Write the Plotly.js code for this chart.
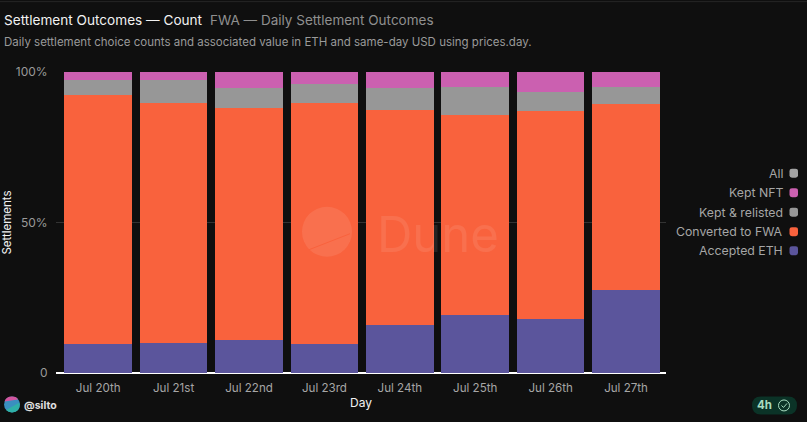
<!DOCTYPE html>
<html><head><meta charset="utf-8">
<script src="https://cdn.plot.ly/plotly-3.0.1.min.js"></script>
<style>html,body{margin:0;padding:0;background:#0f0f0f;overflow:hidden}#c{width:807px;height:422px}</style>
</head><body><div id="c"></div>
<script>
const days = ["Jul 20th","Jul 21st","Jul 22nd","Jul 23rd","Jul 24th","Jul 25th","Jul 26th","Jul 27th"];
const acceptedEth = [9.7,10.1,11.0,9.6,16.0,19.2,17.9,27.7];
const convertedFwa = [82.7,79.6,77.0,80.1,71.4,66.5,69.0,61.7];
const keptRelisted = [4.8,7.8,6.8,6.2,7.4,9.4,6.6,5.7];
const keptNft = [2.8,2.5,5.2,4.1,5.2,4.9,6.5,4.9];
const allSeries = [0,0,0,0,0,0,0,0];
const seriesNames = ["Accepted ETH","Converted to FWA","Kept & relisted","Kept NFT","All"];
const seriesColors = ["#5b559c","#f9623d","#979797","#cb60b0","#a3a3a3"];
const seriesValues = [acceptedEth,convertedFwa,keptRelisted,keptNft,allSeries];
const yTickVals = [0,50,100];
const yTickText = ["0","50%","100%"];

const W=807,H=422,L=56,R=666,T=72,B=373.5;
const px=x=>(x-L)/(R-L), py=y=>(B-y)/(B-T);
const bg="#0f0f0f";
const traces=seriesValues.map((v,i)=>({type:"bar",name:seriesNames[i],x:days,y:v,width:0.895,
  marker:{color:seriesColors[i],line:{width:0}},showlegend:false,hoverinfo:"x+y+name"}));

const ann=(x,y,text,o)=>Object.assign({xref:"paper",yref:"paper",x:px(x),y:py(y),text,showarrow:false,
  xanchor:"left",yanchor:"middle",xshift:0,yshift:0,borderpad:0,borderwidth:0},o||{});
const F="Inter, 'Noto Sans', sans-serif";
const annotations=[
  ann(4,20,"Settlement Outcomes — Count",{font:{family:F,size:13.6,color:"#f2f2f2"}}),
  ann(210,20,"FWA — Daily Settlement Outcomes",{font:{family:F,size:13.5,color:"#8f8f8f"}}),
  ann(4,42,"Daily settlement choice counts and associated value in ETH and same-day USD using prices.day.",{font:{family:F,size:11.5,color:"#9a9a9a"}}),
  ann(24,406,"<b>@silto</b>",{font:{family:F,size:10.5,color:"#e0e0e0"}}),
  ann(757,405.5,"<b>4h</b>",{font:{family:F,size:11.5,color:"#a8dcc0"}}),
  ann(377,235,"Dune",{font:{family:F,size:49,color:"rgba(255,255,255,0.09)"}}),
];
const legendY=[173.5,193,212.5,232,251];
const shapes=[
  {type:"line",xref:"paper",yref:"paper",x0:px(0),x1:px(W),y0:py(1.5),y1:py(1.5),line:{color:"#262626",width:1}},
];
const roundRect=(x0,y0,x1,y1,r)=>{
  const X=v=>px(v),Y=v=>py(v);
  return `M${X(x0+r)},${Y(y0)} L${X(x1-r)},${Y(y0)} Q${X(x1)},${Y(y0)} ${X(x1)},${Y(y0+r)} L${X(x1)},${Y(y1-r)} Q${X(x1)},${Y(y1)} ${X(x1-r)},${Y(y1)} L${X(x0+r)},${Y(y1)} Q${X(x0)},${Y(y1)} ${X(x0)},${Y(y1-r)} L${X(x0)},${Y(y0+r)} Q${X(x0)},${Y(y0)} ${X(x0+r)},${Y(y0)} Z`;
};
const pshape=(path,fill,o)=>Object.assign({type:"path",xref:"paper",yref:"paper",path,fillcolor:fill,line:{width:0}},o||{});
const circle=(cx,cy,r,fill,o)=>Object.assign({type:"circle",xref:"paper",yref:"paper",x0:px(cx-r),x1:px(cx+r),y0:py(cy+r),y1:py(cy-r),fillcolor:fill,line:{width:0}},o||{});
seriesNames.slice().reverse().forEach((n,i)=>{
  annotations.push(ann(783,legendY[i],n,{xanchor:"right",font:{family:F,size:12.3,color:"#a6a6a6"}}));
  shapes.push(pshape(roundRect(789.5,legendY[i]-4.5,798,legendY[i]+4.5,2.5),seriesColors[4-i]));
});
// avatar
shapes.push(circle(12,405,8,"#3a8fc0"));
shapes.push(pshape(`M${px(4.5)},${py(402)} Q${px(6)},${py(397)} ${px(12)},${py(397)} Q${px(17)},${py(397)} ${px(18)},${py(400)} Z`,"#d2559f"));
shapes.push(pshape(`M${px(6)},${py(410.5)} L${px(19.6)},${py(403)} Q${px(20.5)},${py(413)} ${px(12)},${py(413)} Q${px(8)},${py(413)} ${px(6)},${py(410.5)} Z`,"#2fb0a8"));
// freshness badge
shapes.push(pshape(roundRect(752,397,797,415,9),"#0b3327"));
shapes.push(circle(784,406,5.5,"rgba(0,0,0,0)",{line:{color:"#a8dcc0",width:1}}));
shapes.push(pshape(`M${px(781.5)},${py(406)} L${px(783.5)},${py(408)} L${px(787)},${py(404)}`,"rgba(0,0,0,0)",{line:{color:"#a8dcc0",width:1}}));
// watermark
shapes.push(circle(327,232,25,"rgba(255,255,255,0.09)",{layer:"above"}));
shapes.push({type:"line",xref:"paper",yref:"paper",x0:px(309),x1:px(350),y0:py(250),y1:py(234),line:{color:"#f9623d",width:1},layer:"above"});

const layout={
  width:W,height:H,paper_bgcolor:bg,plot_bgcolor:bg,
  margin:{l:L,r:W-R,t:T,b:H-B,pad:0},
  barmode:"stack",bargap:0.105,showlegend:false,
  font:{family:F,size:12,color:"#a6a6a6"},
  xaxis:{type:"category",categoryorder:"array",categoryarray:days,range:[-0.56,7.53],fixedrange:true,
    showgrid:false,showline:false,zeroline:false,ticks:"outside",ticklen:4,tickcolor:"rgba(0,0,0,0)",
    tickfont:{family:F,size:11.6,color:"#a6a6a6"},
    title:{text:"Day",standoff:4,font:{family:F,size:12,color:"#f2f2f2"}}},
  yaxis:{range:[0,100],fixedrange:true,tickmode:"array",tickvals:yTickVals,ticktext:yTickText,
    showgrid:true,gridcolor:"#333333",gridwidth:1,zeroline:true,zerolinecolor:"#ffffff",zerolinewidth:1.5,
    showline:false,ticks:"outside",ticklen:5,tickcolor:"rgba(0,0,0,0)",
    tickfont:{family:F,size:12,color:"#9a9a9a"},
    title:{text:"Settlements",standoff:1,font:{family:F,size:11.5,color:"#f2f2f2"}}},
  annotations,shapes
};
Plotly.newPlot("c",traces,layout,{displayModeBar:false,responsive:false});
</script></body></html>
